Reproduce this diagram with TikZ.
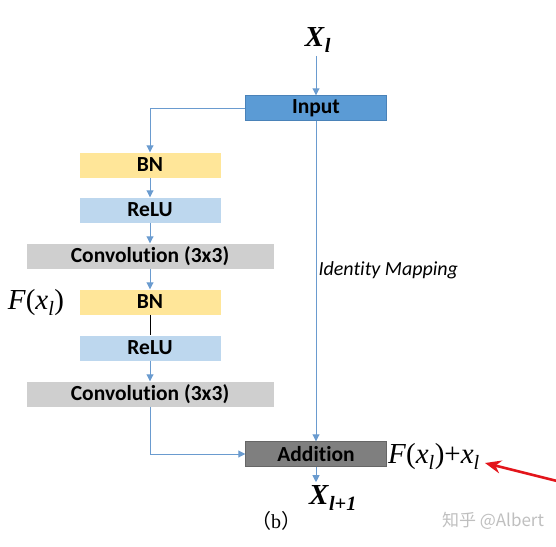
\documentclass[tikz,border=0pt]{standalone}
\usepackage{fontspec}
\setmainfont{Liberation Serif}
\setsansfont{Carlito}[Ligatures={NoCommon}]
\newfontfamily\cjkfont{Noto Sans CJK SC}
\usetikzlibrary{positioning}
\usetikzlibrary{arrows.meta}
\definecolor{inblue}{HTML}{5B9BD5}
\definecolor{inborder}{HTML}{4A82B8}
\definecolor{bnyellow}{HTML}{FFE699}
\definecolor{relublue}{HTML}{BDD7EE}
\definecolor{convgray}{HTML}{CFCFCF}
\definecolor{addgray}{HTML}{7F7F7F}
\definecolor{linkblue}{HTML}{6A9BCF}
\definecolor{markred}{HTML}{E3151B}
\tikzset{
    layer/.style={minimum width=141pt, minimum height=25pt, inner sep=0pt,
        font=\sffamily\bfseries\fontsize{21.5}{24}\selectfont},
    widelayer/.style={layer, minimum width=247pt},
    link/.style={draw=linkblue, line width=0.9pt, -{Triangle[length=7pt,width=7pt]}},
    mathlabel/.style={font=\fontsize{29}{32}\selectfont}
}
\newcommand{\vx}[1]{\textbf{\textit{X}}\textsubscript{\textbf{\textit{#1}}}}
\newcommand{\fx}{\textit{F}(\textit{x}\textsubscript{\textit{l}})}

\begin{document}
\begin{tikzpicture}[x=1pt,y=-1pt]
    \useasboundingbox (0,0) rectangle (556,546);

    % input and output
    \node[mathlabel] (xin) at (318,40) {\vx{l}};
    \node[layer, fill=inblue, draw=inborder] (input) at (316,108) {Input};
    \node[layer, fill=addgray, draw=addgray!80!black] (add) at (316,454) {Addition};
    \node[mathlabel] (xout) at (333,498) {\vx{l+1}};

    % residual branch
    \node[layer, fill=bnyellow] (bn1) at (150,165) {BN};
    \node[layer, fill=relublue] (relu1) at (150,210) {ReLU};
    \node[widelayer, fill=convgray] (conv1) at (150,256) {Convolution (3x3)};
    \node[layer, fill=bnyellow] (bn2) at (150,302) {BN};
    \node[layer, fill=relublue] (relu2) at (150,348) {ReLU};
    \node[widelayer, fill=convgray] (conv2) at (150,394) {Convolution (3x3)};

    % labels
    \node[mathlabel] (fx) at (36,303) {\fx};
    \node[mathlabel, anchor=west, inner sep=0pt] (sum) at (388,457) {\fx+\textit{x}\textsubscript{\textit{l}}};
    \node[font=\sffamily\itshape\fontsize{20}{23}\selectfont, anchor=west] (ident) at (315,270) {Identity Mapping};
    \node[font=\fontsize{20}{22}\selectfont] (cap) at (276,521) {{\cjkfont （}b{\cjkfont ）}};
    \node[font=\cjkfont\fontsize{17}{20}\selectfont, text=black!25] (mark) at (493,521) {知乎 @Albert};
    \coordinate (redtail) at (557,481);

    % connectors
    \draw[link] (input.north |- xin.south) -- (input);
    \draw[link] (input.west) -| (bn1.north);
    \draw[link] (bn1) -- (relu1);
    \draw[link] (relu1) -- (conv1);
    \draw[link] (conv1) -- (bn2);
    \draw[black, line width=0.9pt] (bn2) -- (relu2);
    \draw[link] (relu2) -- (conv2);
    \draw[link] (conv2.south) |- (add.west);
    \draw[link] (input) -- (add);
    \draw[link] (add) -- (xout.north -| add.south);
    \draw[draw=markred, line width=2.6pt, -{Stealth[length=16pt,width=13pt]}] (redtail) -- (485,463);
\end{tikzpicture}
\end{document}
